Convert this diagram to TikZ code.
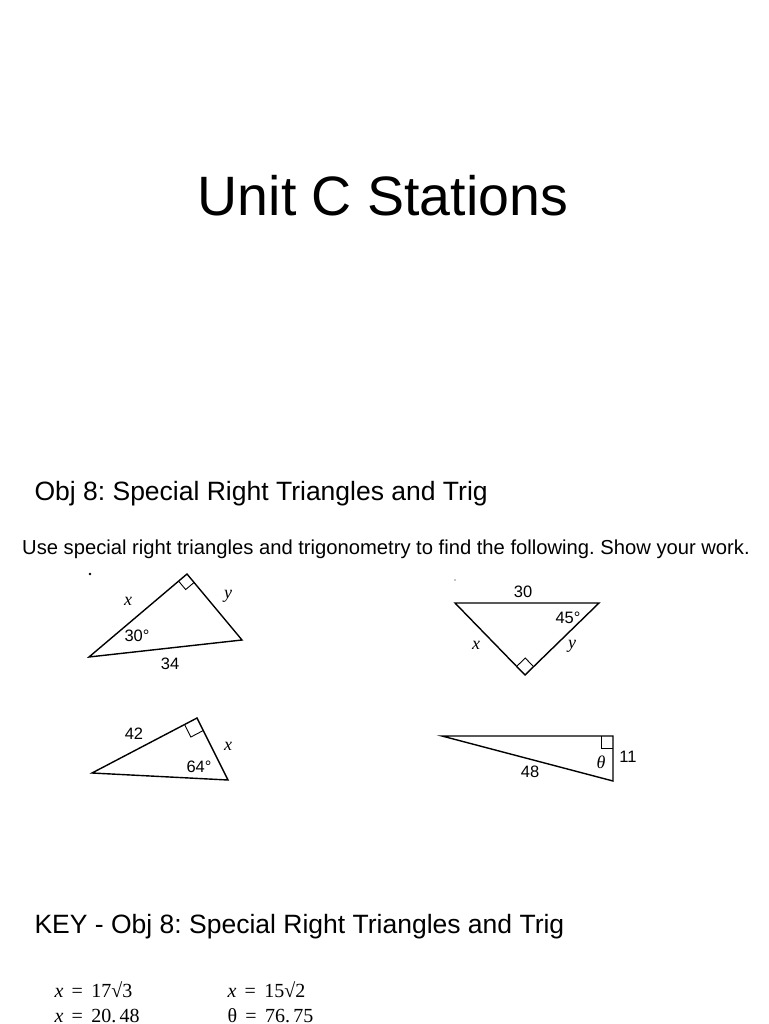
\documentclass[tikz,border=0pt]{standalone}
\usepackage{fontspec}
\usetikzlibrary{calc}
\setmainfont{Liberation Sans}
\newfontfamily\lserif{Liberation Serif}
\frenchspacing
\begin{document}
\begin{tikzpicture}[x=1pt,y=-1pt,
  tri/.style={line width=1.4pt,line join=miter},
  sq/.style={line width=0.9pt},
  lab/.style={font=\fontsize{16.5}{16}\selectfont},
  vlab/.style={font=\lserif\itshape\fontsize{18}{18}\selectfont},
  key/.style={anchor=west,font=\lserif\fontsize{20}{20}\selectfont}]
\useasboundingbox (0,0) rectangle (768,1024);
\node (title) at (383,196) {\fontsize{55.5}{56}\selectfont Unit C Stations};
\node[anchor=west] (obj) at (31,494) {\fontsize{26.5}{27}\selectfont Obj 8: Special Right Triangles and Trig};
\node (use) at (386,549) {\fontsize{20.2}{21}\selectfont Use special right triangles and trigonometry to find the following. Show your work.};
\node[anchor=west] (keyt) at (31,927) {\fontsize{26.5}{27}\selectfont KEY - Obj 8: Special Right Triangles and Trig};
% dots
\fill (90,574) circle (1.4);
\fill (455,580) circle (0.7);
% T1
\coordinate (a1) at (89,657); \coordinate (b1) at (187,574); \coordinate (c1) at (242,640);
\draw[tri] (a1)--(b1)--(c1)--cycle;
\coordinate (p1) at ($(b1)!11pt!(a1)$); \coordinate (q1) at ($(b1)!11pt!(c1)$);
\draw[sq] (p1) -- ($(p1)+(q1)-(b1)$) -- (q1);
\node[vlab] (x1) at (128,601) {x};
\node[vlab] (y1) at (228,596) {y};
\node[lab] (ang1) at (137,636) {30°};
\node[lab] (s1) at (170,664) {34};
% T2
\coordinate (a2) at (455,603); \coordinate (b2) at (599,603); \coordinate (c2) at (525,675);
\draw[tri] (a2)--(b2)--(c2)--cycle;
\coordinate (p2) at ($(c2)!12pt!(a2)$); \coordinate (q2) at ($(c2)!12pt!(b2)$);
\draw[sq] (p2) -- ($(p2)+(q2)-(c2)$) -- (q2);
\node[lab] (s2) at (523,592) {30};
\node[lab] (ang2) at (568,618) {45°};
\node[vlab] (x2) at (476,645) {x};
\node[vlab] (y2) at (572,646) {y};
% T3
\coordinate (a3) at (92,773); \coordinate (b3) at (197,718); \coordinate (c3) at (228,780);
\draw[tri] (a3)--(b3)--(c3)--cycle;
\coordinate (p3) at ($(b3)!14pt!(a3)$); \coordinate (q3) at ($(b3)!14pt!(c3)$);
\draw[sq] (p3) -- ($(p3)+(q3)-(b3)$) -- (q3);
\node[lab] (s3) at (134,734) {42};
\node[vlab] (x3) at (228,746) {x};
\node[lab] (ang3) at (199,767) {64°};
% T4
\coordinate (a4) at (442,736); \coordinate (b4) at (613,736); \coordinate (c4) at (613,781);
\draw[tri] (a4)--(b4)--(c4)--cycle;
\coordinate (p4) at ($(b4)!12pt!(a4)$); \coordinate (q4) at ($(b4)!12pt!(c4)$);
\draw[sq] (p4) -- ($(p4)+(q4)-(b4)$) -- (q4);
\node[lab] (s4) at (628,757) {11};
\node[vlab] (t4) at (601,762) {θ};
\node[lab] (h4) at (530,772) {48};
% key
\node[key] (k1) at (51,990) {{\itshape x} \,=\, 17√3};
\node[key] (k2) at (224,990) {{\itshape x} \,=\, 15√2};
\node[key] (k3) at (51,1016) {{\itshape x} \,=\, 20.\,48};
\node[key] (k4) at (224,1016) {θ \,=\, 76.\,75};
\end{tikzpicture}
\end{document}
